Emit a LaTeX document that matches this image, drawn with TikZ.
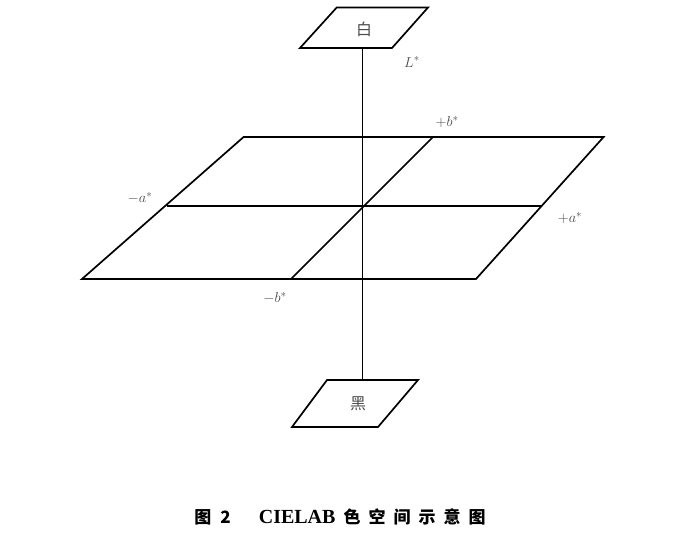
\documentclass[tikz,border=0pt]{standalone}
\usepackage{fontspec}
\setmainfont{Liberation Serif}
\newfontfamily\cjk{Noto Sans CJK SC}
\begin{document}
\begin{tikzpicture}[x=1pt,y=-1pt,
  edge/.style={line width=1.7pt,line join=miter},
  lab/.style={font=\fontsize{15}{15}\selectfont,text=black!70,inner sep=0pt},
  boxlab/.style={font=\cjk\fontsize{16}{16}\selectfont,text=black!70,inner sep=0pt}]
\useasboundingbox (0,0) rectangle (687,547);
% plane corners
\coordinate (TL) at (243.6,137);
\coordinate (TR) at (603.6,137);
\coordinate (ML) at (167,206);
\coordinate (MR) at (542,206);
\coordinate (BL) at (82,279);
\coordinate (BR) at (476,279);
\coordinate (TM) at (433,137);
\coordinate (BM) at (291,279);
\coordinate (O) at (362.5,206);
% top box
\coordinate (A1) at (336.7,7.5);
\coordinate (A2) at (428,7.5);
\coordinate (A3) at (392,48);
\coordinate (A4) at (300,48);
\coordinate (Atop) at (362.5,48);
% bottom box
\coordinate (B1) at (327,380);
\coordinate (B2) at (418,380);
\coordinate (B3) at (378,427);
\coordinate (B4) at (292,427);
\coordinate (Bbot) at (362.5,380);
\draw[edge] (A1) -- (A2) -- (A3) -- (A4) -- cycle;
\draw[edge] (B1) -- (B2) -- (B3) -- (B4) -- cycle;
\draw[edge] (TL) -- (TR) -- (BR) -- (BL) -- cycle;
\draw[edge] (ML) -- (MR);
\draw[edge] (TM) -- (BM);
\draw[edge] (Atop) -- (Bbot);
\node[boxlab] (white) at (364,29) {白};
\node[boxlab] (black) at (358,404) {黑};
\node[lab] (L) at (412,62) {$L^*$};
\node[lab] (pb) at (447,122) {$+b^*$};
\node[lab] (ma) at (140,198) {$-a^*$};
\node[lab] (pa) at (570,218) {$+a^*$};
\node[lab] (mb) at (275,298) {$-b^*$};
\node[inner sep=0pt] (cap) at (340,517) {\cjk\bfseries\fontsize{17}{17}\selectfont 图\hspace{9pt}2\hspace{28pt}{\rmfamily\bfseries\fontsize{20}{20}\selectfont CIELAB}\hspace{8pt}色\hspace{8pt}空\hspace{8pt}间\hspace{8pt}示\hspace{8pt}意\hspace{8pt}图};
\end{tikzpicture}
\end{document}
